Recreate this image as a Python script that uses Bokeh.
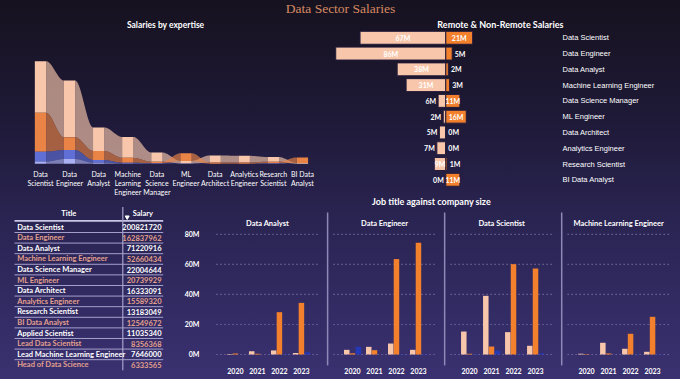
import numpy as np
from bokeh.plotting import figure
from bokeh.layouts import column, row
from bokeh.models import Range1d, FixedTicker, ColumnDataSource
from bokeh.core.properties import value
from bokeh.embed import file_html
from bokeh.resources import INLINE

# ---------------- data ----------------
main_title = "Data Sector Salaries"

ribbon_title = "Salaries by expertise"
ribbon_cats = ["Data\nScientist", "Data\nEngineer", "Data\nAnalyst", "Machine\nLearning\nEngineer",
               "Data\nScience\nManager", "ML\nEngineer", "Data\nArchitect", "Analytics\nEngineer",
               "Research\nScientist", "BI Data\nAnalyst"]
ribbon_senior = [101, 111, 46, 41, 18, 5, 14, 13, 9, 1.5]
ribbon_mid = [76, 25, 18, 9.5, 3, 15, 2, 2.5, 3, 11]
ribbon_entry = [19.5, 17.5, 5, 1.5, 1, 0.7, 0.3, 0.1, 1.2, 0]
ribbon_exec = [4.3, 9.3, 2.2, 0.6, 0, 0, 0, 0, 0, 0]

remote_title = "Remote & Non-Remote Salaries"
remote_titles = ["Data Scientist", "Data Engineer", "Data Analyst", "Machine Learning Engineer",
                 "Data Science Manager", "ML Engineer", "Data Architect", "Analytics Engineer",
                 "Research Scientist", "BI Data Analyst"]
remote_left = [67, 86, 38, 31, 6, 2, 5, 7, 9, 0]
remote_right = [21, 5, 2, 3, 11, 16, 0, 0, 1, 11]

table_header = ["Title", "Salary"]
table_titles = ["Data Scientist", "Data Engineer", "Data Analyst", "Machine Learning Engineer",
                "Data Science Manager", "ML Engineer", "Data Architect", "Analytics Engineer",
                "Research Scientist", "BI Data Analyst", "Applied Scientist", "Lead Data Scientist",
                "Lead Machine Learning Engineer", "Head of Data Science"]
table_salaries = [200821720, 162837962, 71220916, 52660434, 22004644, 20739929, 16333091,
                  15589320, 13183049, 12549672, 11035340, 8356368, 7646000, 6333565]

size_title = "Job title against company size"
size_panels = ["Data Analyst", "Data Engineer", "Data Scientist", "Machine Learning Engineer"]
size_years = ["2020", "2021", "2022", "2023"]
size_large = [[0.4, 2.2, 2.7, 1.0], [3.1, 5.1, 7.3, 3.1], [15.3, 39.1, 14.9, 5.8], [0.5, 7.8, 3.8, 1.8]]
size_medium = [[0.6, 0.5, 28.2, 34.4], [0.8, 2.9, 63.6, 74.4], [0.5, 5.3, 60.2, 57.3], [0.3, 0.7, 13.8, 25.1]]
size_small = [[0, 0, 0.3, 1.5], [5.1, 0, 0.3, 0.3], [0.3, 2.6, 0.3, 0.8], [0, 0, 0.2, 0.3]]
size_yticks = [0, 20, 40, 60, 80]

# ---------------- styles ----------------
PEACH = "#f8c7ab"
ORANGE = "#ea8446"
BLUE = "#5f6fd6"
LAV = "#aab0f2"
BAR_ORANGE = "#f2802c"
BAR_BLUE = "#2538b5"
WHITE = "#ffffff"
ROSE = "#e2a08e"
LINE = "#a6a0cc"
TITLE_FONT = value("Lato")


def base_fig(w, h, xr, yr, **kw):
    opts = dict(width=w, height=h, x_range=xr, y_range=yr, output_backend="svg",
                toolbar_location=None, background_fill_alpha=0, border_fill_alpha=0,
                outline_line_color=None, min_border_left=0, min_border_right=0,
                min_border_top=0, min_border_bottom=0,
                x_axis_location=None, y_axis_location=None)
    opts.update(kw)
    p = figure(**opts)
    p.grid.visible = False
    return p


# ---------------- main title ----------------
tf = base_fig(680, 18, Range1d(0, 680), Range1d(0, 18))
tf.text(x=[340], y=[10.5], text=[main_title], text_align="center", text_baseline="middle",
        text_font=value("Liberation Serif"), text_font_size="13.5px", text_color="#d88a62")

# ---------------- ribbon chart ----------------
n = len(ribbon_cats)
vals = np.array([ribbon_senior, ribbon_mid, ribbon_entry, ribbon_exec], dtype=float)
colors = [PEACH, ORANGE, BLUE, LAV]
y0 = np.zeros_like(vals)
y1 = np.zeros_like(vals)
for i in range(n):
    base = 0.0
    for s in np.argsort(vals[:, i], kind="stable"):
        y0[s, i] = base
        base += vals[s, i]
        y1[s, i] = base

rib = base_fig(320, 178, Range1d(-1.375, 9.622), Range1d(-64.0, 284.3))
hw = 0.195
t = np.linspace(0, 1, 30)
sm = t * t * (3 - 2 * t)
for s in range(len(vals)):
    xs_list, ys_list = [], []
    for i in range(n - 1):
        if y1[s, i] - y0[s, i] <= 0 and y1[s, i + 1] - y0[s, i + 1] <= 0:
            continue
        xx = i + hw + (1 - 2 * hw) * t
        top = y1[s, i] + (y1[s, i + 1] - y1[s, i]) * sm
        bot = y0[s, i] + (y0[s, i + 1] - y0[s, i]) * sm
        xs_list.append(list(np.concatenate([xx, xx[::-1]])))
        ys_list.append(list(np.concatenate([top, bot[::-1]])))
    rib.patches(xs=xs_list, ys=ys_list, fill_color=colors[s], fill_alpha=0.66, line_color=None)
for s in range(len(vals)):
    rib.vbar(x=list(range(n)), width=2 * hw, bottom=list(y0[s]), top=list(y1[s]),
             fill_color=colors[s], line_color=None)
rib.text(x=[4.3], y=[271.6], text=[ribbon_title], text_align="center", text_baseline="middle",
         text_font=TITLE_FONT, text_font_style="bold", text_font_size="8.5px", text_color=WHITE)
rib.text(x=list(range(n)), y=[-12.0] * n, text=ribbon_cats, text_align="center",
         text_baseline="top", text_line_height=1.12, text_font=TITLE_FONT,
         text_font_size="7px", text_color=WHITE)

# ---------------- remote / non-remote ----------------
rem = base_fig(360, 178, Range1d(-97.9, 183.4), Range1d(-10.06, 1.223))
ks = [-k for k in range(len(remote_titles))]
rem.hbar(y=ks, left=[-v for v in remote_left], right=0, height=0.82,
         fill_color=PEACH, line_color="#241b3a", line_width=1)
rem.hbar(y=ks, left=0, right=remote_right, height=0.82,
         fill_color=BAR_ORANGE, line_color="#241b3a", line_width=1)
lx, la, rx, ra = [], [], [], []
for v in remote_left:
    if v >= 9:
        lx.append(-v / 2); la.append("center")
    else:
        lx.append(-v - 1.6); la.append("right")
for v in remote_right:
    if v >= 11:
        rx.append(v / 2); ra.append("center")
    else:
        rx.append(v + 2.0); ra.append("left")
rem.text(x="x", y="y", text="t", text_align="a", source=ColumnDataSource(dict(
    x=lx + rx, y=ks + ks, t=[f"{v}M" for v in remote_left] + [f"{v}M" for v in remote_right],
    a=la + ra)), text_baseline="middle", text_font=TITLE_FONT, text_font_style="bold",
    text_font_size="7px", text_color=WHITE)
rem.text(x=[91.2] * len(ks), y=ks, text=remote_titles, text_align="left", text_baseline="middle",
         text_font=value("Liberation Sans"), text_font_size="7.5px", text_color=WHITE)
rem.text(x=[42.7], y=[0.84], text=[remote_title], text_align="center", text_baseline="middle",
         text_font=TITLE_FONT, text_font_style="bold", text_font_size="9px", text_color=WHITE)

# ---------------- table ----------------
tb = base_fig(180, 183, Range1d(0, 180), Range1d(-14.37, 2.896))
rows = list(range(len(table_titles)))
ry = [-r for r in rows]
row_colors = [WHITE if r % 2 == 0 else ROSE for r in rows]
tb.segment(x0=14, x1=162.7, y0=0.6, y1=0.6, line_color="#c9c5e4", line_width=1.6)
tb.segment(x0=[14] * 13, x1=[162.7] * 13, y0=[-r - 0.5 for r in rows[:-1]],
           y1=[-r - 0.5 for r in rows[:-1]], line_color=LINE, line_width=1)
tb.segment(x0=122.3, x1=122.3, y0=1.9, y1=-13.5, line_color=LINE, line_width=1.2)
tsrc = ColumnDataSource(dict(y=ry, t=table_titles, s=[str(v) for v in table_salaries], c=row_colors))
tb.text(x=16.7, y="y", text="t", text_color="c", source=tsrc, text_align="left",
        text_baseline="middle", text_font=TITLE_FONT, text_font_style="bold", text_font_size="7.5px")
tb.text(x=161, y="y", text="s", text_color="c", source=tsrc, text_align="right",
        text_baseline="middle", text_font=TITLE_FONT, text_font_style="bold", text_font_size="7.5px")
tb.text(x=[68.3, 142.3], y=[1.32, 1.32], text=table_header, text_align="center",
        text_baseline="middle", text_font=TITLE_FONT, text_font_style="bold",
        text_font_size="7.5px", text_color=WHITE)
tb.scatter(x=[126.7], y=[0.95], marker="inverted_triangle", size=4, color=WHITE)

# ---------------- company size small multiples ----------------
P, Y0, YS, GW = 532, 86, 100, 464
sz = base_fig(500, 183, Range1d(-27.3, 2109), Range1d(-16.67, 105.3),
              y_axis_location="left", min_border_left=30)
gx0, gx1, gy = [], [], []
for p_i in range(len(size_panels)):
    for v in size_yticks:
        gx0.append(P * p_i); gx1.append(P * p_i + GW); gy.append(v)
sz.segment(x0=gx0, x1=gx1, y0=gy, y1=gy, line_color="#9c96c6", line_alpha=0.8,
           line_width=1.2, line_dash="1 3")
seps = [P * p_i + 505 for p_i in range(len(size_panels) - 1)]
sz.segment(x0=seps, x1=seps, y0=-7.3, y1=94.7, line_color="#8f89b8", line_width=1.5)
for series, color, off in zip([size_large, size_medium, size_small],
                              [PEACH, BAR_ORANGE, BAR_BLUE], [-26, 0, 27]):
    xs, tops = [], []
    for p_i in range(len(size_panels)):
        for j in range(len(size_years)):
            xs.append(P * p_i + Y0 + YS * j + off)
            tops.append(series[p_i][j])
    sz.vbar(x=xs, top=tops, bottom=0, width=25, fill_color=color, line_color=None)
sz.text(x=[P * p_i + GW / 2 for p_i in range(len(size_panels))], y=[87.5] * 4, text=size_panels,
        text_align="center", text_baseline="middle", text_font=TITLE_FONT, text_font_style="bold",
        text_font_size="7.5px", text_color=WHITE)
sz.text(x=[977], y=[102], text=[size_title], text_align="center", text_baseline="middle",
        text_font=TITLE_FONT, text_font_style="bold", text_font_size="9px", text_color=WHITE)
yx, yl = [], []
for p_i in range(len(size_panels)):
    for j, yr in enumerate(size_years):
        yx.append(P * p_i + Y0 + YS * j)
        yl.append(yr)
sz.text(x=yx, y=[-11.3] * len(yx), text=yl, text_align="center", text_baseline="middle",
        text_font=TITLE_FONT, text_font_style="bold", text_font_size="7px", text_color=WHITE)
sz.yaxis.ticker = FixedTicker(ticks=size_yticks)
sz.yaxis.major_label_overrides = {v: f"{v}M" for v in size_yticks}
sz.yaxis.axis_line_color = None
sz.yaxis.major_tick_line_color = None
sz.yaxis.minor_tick_line_color = None
sz.yaxis.major_label_text_color = WHITE
sz.yaxis.major_label_text_font = "Lato"
sz.yaxis.major_label_text_font_style = "bold"
sz.yaxis.major_label_text_font_size = "7px"
sz.yaxis.major_label_standoff = 5

layout = column(tf, row(rib, rem), row(tb, sz),
                styles={"background": "linear-gradient(180deg, #16121f 0%, #1e1936 30%, #2a2452 58%, #3a3171 100%)"})

open("out.html", "w").write(file_html(layout, INLINE))
